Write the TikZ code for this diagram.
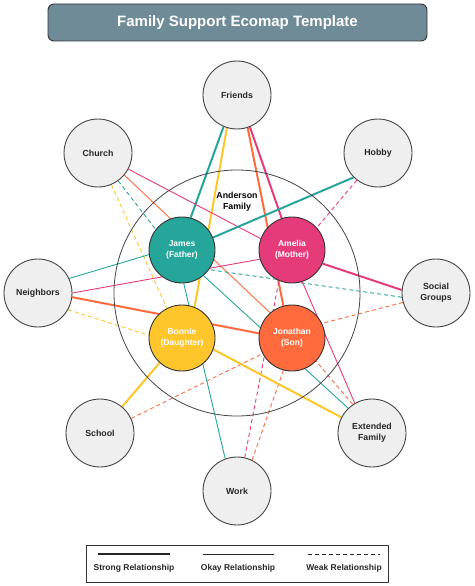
\documentclass[tikz,border=0pt]{standalone}
\usepackage{fontspec}
\setmainfont{Liberation Sans}
\usetikzlibrary{backgrounds}

\definecolor{famteal}{HTML}{26A69A}
\definecolor{fampink}{HTML}{E63B7A}
\definecolor{famyellow}{HTML}{FFC62C}
\definecolor{famorange}{HTML}{FF6B3D}
\definecolor{titlegray}{HTML}{6F8B98}
\definecolor{ringgray}{HTML}{EFEFEF}
\definecolor{edgegray}{HTML}{444444}

\begin{document}
\begin{tikzpicture}[
  x=1pt, y=-1pt,
  font=\bfseries\fontsize{8.8}{11}\selectfont,
  outer/.style={circle,draw=edgegray,line width=0.9pt,fill=ringgray,minimum size=68pt,inner sep=0pt,align=center,text=black!85},
  member/.style={circle,draw=black!80,line width=0.9pt,fill=#1,minimum size=66pt,inner sep=0pt,align=center,text=white,font=\bfseries\fontsize{8.5}{10.5}\selectfont},
  strong/.style={draw=#1,line width=2pt},
  okay/.style={draw=#1,line width=0.9pt},
  weak/.style={draw=#1,line width=0.9pt,dash pattern=on 4pt off 3pt},
  keytxt/.style={font=\bfseries\fontsize{8.5}{10}\selectfont,text=black!85}
]
\useasboundingbox (0,0) rectangle (474,586);

% --- Title ---
\node[draw=black!80,line width=0.9pt,rounded corners=6pt,fill=titlegray,minimum width=379pt,minimum height=37pt,
      text=white,font=\bfseries\fontsize{15}{18}\selectfont] (title) at (237.5,22.5) {Family Support Ecomap Template};

% --- Household ---
\node[circle,draw=edgegray,line width=0.8pt,minimum size=246pt,inner sep=0pt] (home) at (237,293) {};
\node[align=center] (family) at (237,202) {Anderson\\Family};

\node[member=famteal]   (james)    at (182,250) {James\\(Father)};
\node[member=fampink]   (amelia)   at (292,250) {Amelia\\(Mother)};
\node[member=famyellow] (bonnie)   at (182,338) {Bonnie\\(Daughter)};
\node[member=famorange] (jonathan) at (292,338) {Jonathan\\(Son)};

% --- Outside systems ---
\node[outer] (friends)   at (237,95)  {Friends};
\node[outer] (church)    at (98,153)  {Church};
\node[outer] (hobby)     at (378,153) {Hobby};
\node[outer] (neighbors) at (38,293)  {Neighbors};
\node[outer] (social)    at (436,293) {Social\\Groups};
\node[outer] (school)    at (100,433) {School};
\node[outer] (extended)  at (372,433) {Extended\\Family};
\node[outer] (work)      at (237,491) {Work};

% --- Ties (behind the circles) ---
\begin{scope}[on background layer]
% friends
\draw[strong=famteal]   (friends.247) -- (james.75);
\draw[strong=famyellow] (friends.253) -- (bonnie.68);
\draw[strong=famorange] (friends.288) -- (jonathan.105);
\draw[strong=fampink]   (friends.292) -- (amelia.108);
% church
\draw[okay=fampink]     (church.332) -- (amelia.160);
\draw[okay=famorange]   (church.320) -- (jonathan.131);
\draw[weak=famteal]     (church.306) -- (james.142);
\draw[weak=famyellow]   (church.293) -- (bonnie.117);
% hobby
\draw[strong=famteal]   (hobby.225) -- (james.22);
\draw[weak=fampink]     (hobby.232) -- (amelia.42);
% neighbors
\draw[okay=famteal]     (neighbors.25) -- (james.188);
\draw[okay=fampink]     (neighbors.0) -- (amelia.196);
\draw[strong=famorange] (neighbors.353) -- (jonathan.172);
\draw[weak=famyellow]   (neighbors.331) -- (bonnie.175);
% social groups
\draw[strong=fampink]   (social.175) -- (amelia.336);
\draw[weak=famteal]     (social.187) -- (james.324);
\draw[weak=famorange]   (social.196) -- (jonathan.26);
% school
\draw[strong=famyellow] (school.50) -- (bonnie.228);
\draw[weak=famorange]   (school.25) -- (jonathan.208);
% work
\draw[okay=famteal]     (work.110) -- (james.273);
\draw[weak=fampink]     (work.77) -- (amelia.247);
\draw[weak=famorange]   (work.64) -- (jonathan.255);
% extended family
\draw[strong=famyellow] (extended.153) -- (bonnie.340);
\draw[okay=famteal]     (extended.134) -- (james.310);
\draw[weak=famorange]   (extended.124) -- (jonathan.316);
\draw[okay=fampink]     (extended.120) -- (amelia.288);
\end{scope}

% --- Legend ---
\node[draw=black!80,line width=0.9pt,minimum width=302pt,minimum height=37pt,inner sep=0pt] (legend) at (237,563.5) {};
\coordinate (strongA) at (98,554);  \coordinate (strongB) at (170,554);
\coordinate (okayA)   at (203,554); \coordinate (okayB)   at (274,554);
\coordinate (weakA)   at (308,554); \coordinate (weakB)   at (380,554);
\draw[strong=black!85] (strongA) -- (strongB);
\draw[okay=black!85]   (okayA) -- (okayB);
\draw[weak=black!85]   (weakA) -- (weakB);
\node[keytxt] (strongtxt) at (134,568) {Strong Relationship};
\node[keytxt] (okaytxt)   at (238,568) {Okay Relationship};
\node[keytxt] (weaktxt)   at (344,568) {Weak Relationship};
\end{tikzpicture}
\end{document}
